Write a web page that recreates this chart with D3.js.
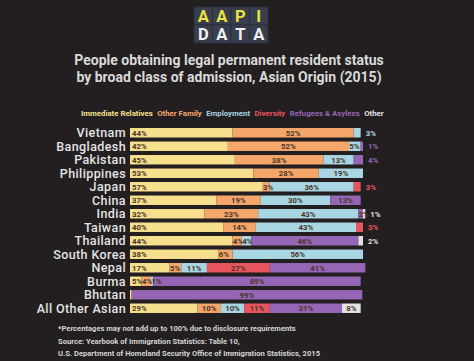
<!DOCTYPE html>
<html><head><meta charset="utf-8">
<script src="https://cdnjs.cloudflare.com/ajax/libs/d3/7.8.5/d3.min.js"></script>
<style>
html,body{margin:0;padding:0;background:#231f20;}
svg{display:block;}
text{font-family:Roboto, "Open Sans", sans-serif;}
</style></head>
<body>
<script>
const countries = ["Vietnam","Bangladesh","Pakistan","Philippines","Japan","China","India","Taiwan","Thailand","South Korea","Nepal","Burma","Bhutan","All Other Asian"];
const seriesNames = ["Immediate Relatives","Other Family","Employment","Diversity","Refugees & Asylees","Other"];
const seriesColors = ["#f6e08e","#f5a66b","#a9d6e3","#e9555e","#9566b5","#e2e2e2"];
const immediateRelatives = [44,42,45,53,57,37,32,40,44,38,17,5,0.7,29];
const otherFamily        = [52,52,38,28,3,19,23,14,4,6,5,4,0,10];
const employment         = [3,5,13,19,36,30,43,43,4,56,11,1,0,10];
const diversity          = [0,0,0,0,3,0,0,3,0,0,27,0,0,11];
const refugees           = [0,1,4,0,0,13,2,0,46,0,41,89,99,31];
const other              = [0,0,0,0,0,0,1,0,2,0,0,0,0,8];
const titleLines = ["People obtaining legal permanent resident status","by broad class of admission, Asian Origin (2015)"];
const notes = ["*Percentages may not add up to 100% due to disclosure requirements","Source: Yearbook of Immigration Statistics: Table 10,","U.S. Department of Homeland Security Office of Immigration Statistics, 2015"];
const logoTop = ["A","A","P","I"], logoBottom = ["D","A","T","A"];

const W=474,H=361;
const svg=d3.select("body").append("svg").attr("width",W).attr("height",H);
svg.append("rect").attr("width",W).attr("height",H).attr("fill","#231f20");

// logo
const lg=svg.append("g");
const lx=d3.scaleBand().domain(d3.range(4)).range([194,268]);
const ly=d3.scaleBand().domain([0,1]).range([7,43]);
[logoTop,logoBottom].forEach((row,r)=>{
  row.forEach((ch,i)=>{
    lg.append("rect").attr("x",lx(i)).attr("y",ly(r)).attr("width",lx.bandwidth()).attr("height",ly.bandwidth())
      .attr("fill","#383e4e").attr("stroke","#2b2f3a").attr("stroke-width",1);
    lg.append("text").attr("x",lx(i)+lx.bandwidth()/2).attr("y",ly(r)+ly.bandwidth()/2+6)
      .attr("text-anchor","middle").attr("font-size",16.5).attr("font-weight",700)
      .attr("fill",r===0?"#ece43a":"#f2f2f2").text(ch);
  });
});

// title
svg.selectAll(".title").data(titleLines).enter().append("text")
  .attr("x",229).attr("y",(d,i)=>65+i*17).attr("text-anchor","middle")
  .attr("font-size",14).attr("font-weight",700).attr("fill","#d9d9d9").text(d=>d);

// legend
const leg=svg.append("g");
let lxpos=81;
seriesNames.forEach((n,i)=>{
  const t=leg.append("text").attr("x",lxpos).attr("y",116).attr("font-size",7.8).attr("font-weight",700)
    .attr("fill",seriesColors[i]).text(n);
  lxpos+=t.node().getComputedTextLength()+4.5;
});

const x=d3.scaleLinear().domain([0,100]).range([130,363]);
const y=d3.scaleBand().domain(countries).range([126,315]).paddingInner(0.3).paddingOuter(0.15);

const seriesVals=[immediateRelatives,otherFamily,employment,diversity,refugees,other];

svg.append("g").selectAll("text").data(countries).enter().append("text")
  .attr("x",126).attr("y",d=>y(d)+y.bandwidth()/2+4.4).attr("text-anchor","end")
  .attr("font-size",12.5).attr("font-weight",500).attr("letter-spacing",0.4).attr("fill","#e4e4e4").text(d=>d);

const bars=svg.append("g");
const labels=svg.append("g");
countries.forEach((c,ci)=>{
  let cum=0;
  const vals=seriesVals.map(s=>s[ci]);
  let lastIdx=-1; vals.forEach((v,i)=>{if(v>0)lastIdx=i;});
  const total=d3.sum(vals);
  vals.forEach((v,si)=>{
    if(v<=0) return;
    const x0=x(cum), x1=x(cum+v);
    bars.append("rect").attr("x",x0).attr("y",y(c)).attr("width",x1-x0).attr("height",y.bandwidth()).attr("fill",seriesColors[si]);
    cum+=v;
    if(v<1) return;
    const txt=Math.round(v)+"%";
    const cy=y(c)+y.bandwidth()/2+2.8;
    if(si===lastIdx && v<=4 && si>0){
      labels.append("text").attr("x",x(total)+5).attr("y",cy).attr("font-size",7.8).attr("font-weight",700)
        .attr("fill",seriesColors[si]).text(txt);
    } else {
      const t=labels.append("text").attr("y",cy).attr("font-size",7.8).attr("font-weight",700).attr("fill","#4a3628").text(txt);
      const tw=t.node().getComputedTextLength();
      if(si===0){ t.attr("x",x0+2); }
      else if(x1-x0>tw+4){ t.attr("x",(x0+x1)/2).attr("text-anchor","middle"); }
      else { t.attr("x",x0+0.3); }
    }
  });
});

// notes
svg.selectAll(".note").data(notes).enter().append("text")
  .attr("x",58).attr("y",(d,i)=>331+i*12.5).attr("font-size",7.6).attr("font-weight",700)
  .attr("fill","#d4d4d4").text(d=>d);
</script>
</body></html>
